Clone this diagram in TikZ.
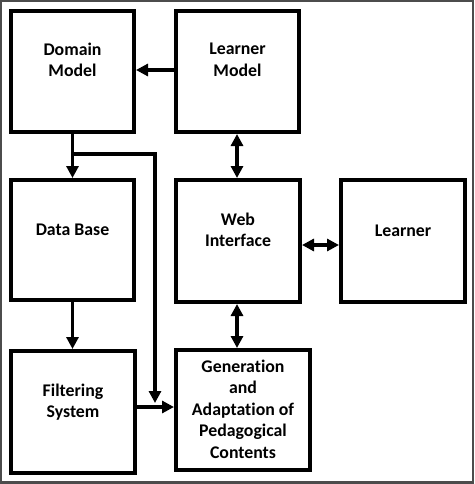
\documentclass[tikz,border=0pt]{standalone}
\usepackage{fontspec}
\setmainfont{Carlito}[Ligatures=NoCommon]
\usetikzlibrary{arrows.meta}
\begin{document}
\begin{tikzpicture}[x=1pt,y=-1pt,
  box/.style={draw,line width=4pt,minimum width=#1,inner sep=0pt},
  lbl/.style={font=\bfseries\fontsize{17.8}{21.5}\selectfont,align=center,inner sep=0pt},
  arr/.style={line width=3.3pt,-{Triangle[length=12pt,width=12pt]}},
  darr/.style={line width=3.3pt,{Triangle[length=12pt,width=12pt]}-{Triangle[length=12pt,width=12pt]}}]
\useasboundingbox (0,0) rectangle (474,484);
\fill[black!70] (0,0) rectangle (474,484);
\fill[white] (2,2) rectangle (471.5,481);
% boxes
\node[box=123pt,minimum height=121pt] (dm) at (72.5,71.5) {};
\node[box=123pt,minimum height=121pt] (lm) at (237.5,71.5) {};
\node[box=123pt,minimum height=120pt] (db) at (72.5,240) {};
\node[box=124pt,minimum height=122pt] (wi) at (238,241) {};
\node[box=124pt,minimum height=122pt] (lr) at (403,241) {};
\node[box=124pt,minimum height=122pt] (fs) at (73,412) {};
\node[box=134pt,minimum height=120pt] (ga) at (243,410) {};
% labels
\node[lbl] (dmt) at (72.5,60) {Domain\\Model};
\node[lbl] (lmt) at (237.5,60) {Learner\\Model};
\node[lbl] (dbt) at (72.5,230) {Data Base};
\node[lbl] (wit) at (238,230) {Web\\Interface};
\node[lbl] (lrt) at (403,231) {Learner};
\node[lbl] (fst) at (73,402) {Filtering\\System};
\node[lbl] (gat) at (243,409) {Generation\\and\\Adaptation of\\Pedagogical\\Contents};
% connectors
\coordinate (br) at (155,154);
\coordinate (brend) at (155,403);
\draw[arr] (lm.west |- 0,70) -- (dm.east |- 0,70);
\draw[arr] (dm.south) -- (db.north);
\draw[arr] (dm.south |- br) -- (br) -- (brend);
\draw[arr] (db.south) -- (fs.north -| db.south);
\draw[arr] (fs.east |- 0,407) -- (ga.west |- 0,407);
\draw[darr] (lm.south -| 237,0) -- (wi.north -| 237,0);
\draw[darr] (wi.south -| 237,0) -- (ga.north -| 237,0);
\draw[darr] (wi.east |- 0,245) -- (lr.west |- 0,245);
\end{tikzpicture}
\end{document}
